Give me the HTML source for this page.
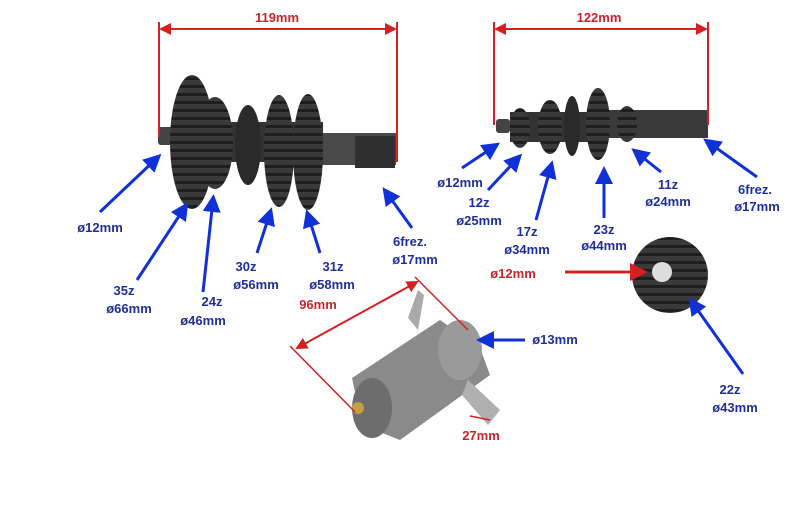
<!DOCTYPE html>
<html><head><meta charset="utf-8"><style>
html,body{margin:0;padding:0;background:#fff;}
svg{display:block;}
text{font-family:"Liberation Sans",sans-serif;font-weight:bold;font-size:13px;}
.b{fill:#1f2f9a;}
.r{fill:#c8262a;}
</style></head><body>
<svg width="800" height="531" viewBox="0 0 800 531" xmlns="http://www.w3.org/2000/svg">
<defs>
<marker id="ab" markerWidth="6" markerHeight="6" refX="4" refY="3" orient="auto" markerUnits="strokeWidth"><path d="M0,0 L6,3 L0,6 z" fill="#1030d8"/></marker>
<marker id="ar" markerWidth="6" markerHeight="6" refX="5" refY="3" orient="auto"><path d="M0,0 L6,3 L0,6 z" fill="#d42020"/></marker>
<marker id="ar2" markerWidth="6" markerHeight="6" refX="5" refY="3" orient="auto-start-reverse"><path d="M0,0 L6,3 L0,6 z" fill="#d42020"/></marker>
<pattern id="teeth" width="6" height="8" patternUnits="userSpaceOnUse"><rect width="6" height="8" fill="#3a3a3a"/><rect y="5" width="6" height="3" fill="#1e1e1e"/></pattern>
</defs>

<!-- Left shaft -->
<g>
<rect x="158" y="127" width="20" height="18" rx="3" fill="#444"/>
<rect x="318" y="133" width="78" height="32" fill="#4a4a4a"/>
<rect x="355" y="136" width="40" height="32" fill="#2f2f2f"/>
<rect x="178" y="122" width="145" height="40" fill="#333"/>
<ellipse cx="192" cy="142" rx="22" ry="67" fill="url(#teeth)"/>
<ellipse cx="215" cy="143" rx="18" ry="46" fill="url(#teeth)"/>
<ellipse cx="248" cy="145" rx="13" ry="40" fill="#2a2a2a"/>
<ellipse cx="279" cy="151" rx="15" ry="56" fill="url(#teeth)"/>
<ellipse cx="308" cy="152" rx="15" ry="58" fill="url(#teeth)"/>
</g>

<!-- Right shaft -->
<g>
<rect x="496" y="119" width="14" height="14" rx="3" fill="#444"/>
<rect x="600" y="110" width="108" height="28" fill="#3a3a3a"/>
<rect x="510" y="112" width="95" height="30" fill="#333"/>
<ellipse cx="520" cy="128" rx="10" ry="20" fill="url(#teeth)"/>
<ellipse cx="550" cy="127" rx="12" ry="27" fill="url(#teeth)"/>
<ellipse cx="572" cy="126" rx="8" ry="30" fill="#2a2a2a"/>
<ellipse cx="598" cy="124" rx="12" ry="36" fill="url(#teeth)"/>
<ellipse cx="627" cy="124" rx="10" ry="18" fill="url(#teeth)"/>
</g>

<!-- small gear -->
<circle cx="670" cy="275" r="38" fill="url(#teeth)"/>
<circle cx="662" cy="272" r="10" fill="#ddd"/>

<!-- shift drum -->
<g>
<polygon points="352,378 440,320 480,348 490,375 400,440 362,425" fill="#8a8a8a"/>
<ellipse cx="372" cy="408" rx="20" ry="30" fill="#6d6d6d"/>
<ellipse cx="460" cy="350" rx="22" ry="30" fill="#9a9a9a"/>
<polygon points="468,380 500,410 488,425 462,395" fill="#b0b0b0"/>
<circle cx="358" cy="408" r="6" fill="#c0a040"/>
<polygon points="408,318 418,290 424,295 418,330" fill="#aaa"/>
</g>

<!-- red dimensions -->
<g stroke="#d42020" stroke-width="2" fill="none">
<line x1="159" y1="22" x2="159" y2="137"/>
<line x1="397" y1="22" x2="397" y2="162"/>
<line x1="161" y1="29" x2="395" y2="29" marker-start="url(#ar2)" marker-end="url(#ar)"/>
<line x1="494" y1="22" x2="494" y2="125"/>
<line x1="708" y1="22" x2="708" y2="125"/>
<line x1="496" y1="29" x2="706" y2="29" marker-start="url(#ar2)" marker-end="url(#ar)"/>
<line x1="297" y1="348" x2="417" y2="282" marker-start="url(#ar2)" marker-end="url(#ar)"/>
<line x1="290" y1="346" x2="355" y2="412" stroke-width="1.5"/>
<line x1="415" y1="277" x2="468" y2="330" stroke-width="1.5"/>
<line x1="470" y1="416" x2="490" y2="420" stroke-width="1.5"/>
<line x1="565" y1="272" x2="645" y2="272" stroke-width="3" marker-end="url(#ar)"/>
</g>

<!-- blue arrows -->
<g stroke="#1030d8" stroke-width="3" marker-end="url(#ab)">
<line x1="100" y1="212" x2="157" y2="158"/>
<line x1="137" y1="280" x2="185" y2="207"/>
<line x1="203" y1="292" x2="213" y2="200"/>
<line x1="257" y1="253" x2="270" y2="213"/>
<line x1="320" y1="253" x2="308" y2="215"/>
<line x1="412" y1="228" x2="386" y2="192"/>
<line x1="462" y1="168" x2="495" y2="146"/>
<line x1="488" y1="190" x2="518" y2="158"/>
<line x1="536" y1="220" x2="551" y2="166"/>
<line x1="604" y1="218" x2="604" y2="172"/>
<line x1="661" y1="172" x2="636" y2="152"/>
<line x1="757" y1="177" x2="708" y2="142"/>
<line x1="525" y1="340" x2="482" y2="340"/>
<line x1="743" y1="374" x2="692" y2="302"/>
</g>

<!-- labels -->
<text class="r" x="277" y="22" text-anchor="middle" font-size="14">119mm</text>
<text class="r" x="599" y="22" text-anchor="middle" font-size="14">122mm</text>
<text class="r" x="318" y="309" text-anchor="middle">96mm</text>
<text class="r" x="481" y="440" text-anchor="middle">27mm</text>
<text class="r" x="513" y="278" text-anchor="middle">ø12mm</text>

<text class="b" x="100" y="232" text-anchor="middle">ø12mm</text>
<text class="b" x="124" y="295" text-anchor="middle">35z</text>
<text class="b" x="129" y="313" text-anchor="middle">ø66mm</text>
<text class="b" x="212" y="306" text-anchor="middle">24z</text>
<text class="b" x="203" y="325" text-anchor="middle">ø46mm</text>
<text class="b" x="246" y="271" text-anchor="middle">30z</text>
<text class="b" x="256" y="289" text-anchor="middle">ø56mm</text>
<text class="b" x="333" y="271" text-anchor="middle">31z</text>
<text class="b" x="332" y="289" text-anchor="middle">ø58mm</text>
<text class="b" x="410" y="246" text-anchor="middle">6frez.</text>
<text class="b" x="415" y="264" text-anchor="middle">ø17mm</text>

<text class="b" x="460" y="187" text-anchor="middle">ø12mm</text>
<text class="b" x="479" y="207" text-anchor="middle">12z</text>
<text class="b" x="479" y="225" text-anchor="middle">ø25mm</text>
<text class="b" x="527" y="236" text-anchor="middle">17z</text>
<text class="b" x="527" y="254" text-anchor="middle">ø34mm</text>
<text class="b" x="604" y="234" text-anchor="middle">23z</text>
<text class="b" x="604" y="250" text-anchor="middle">ø44mm</text>
<text class="b" x="668" y="189" text-anchor="middle">11z</text>
<text class="b" x="668" y="206" text-anchor="middle">ø24mm</text>
<text class="b" x="755" y="194" text-anchor="middle">6frez.</text>
<text class="b" x="757" y="211" text-anchor="middle">ø17mm</text>

<text class="b" x="555" y="344" text-anchor="middle">ø13mm</text>
<text class="b" x="730" y="394" text-anchor="middle">22z</text>
<text class="b" x="735" y="412" text-anchor="middle">ø43mm</text>
</svg>
</body></html>
